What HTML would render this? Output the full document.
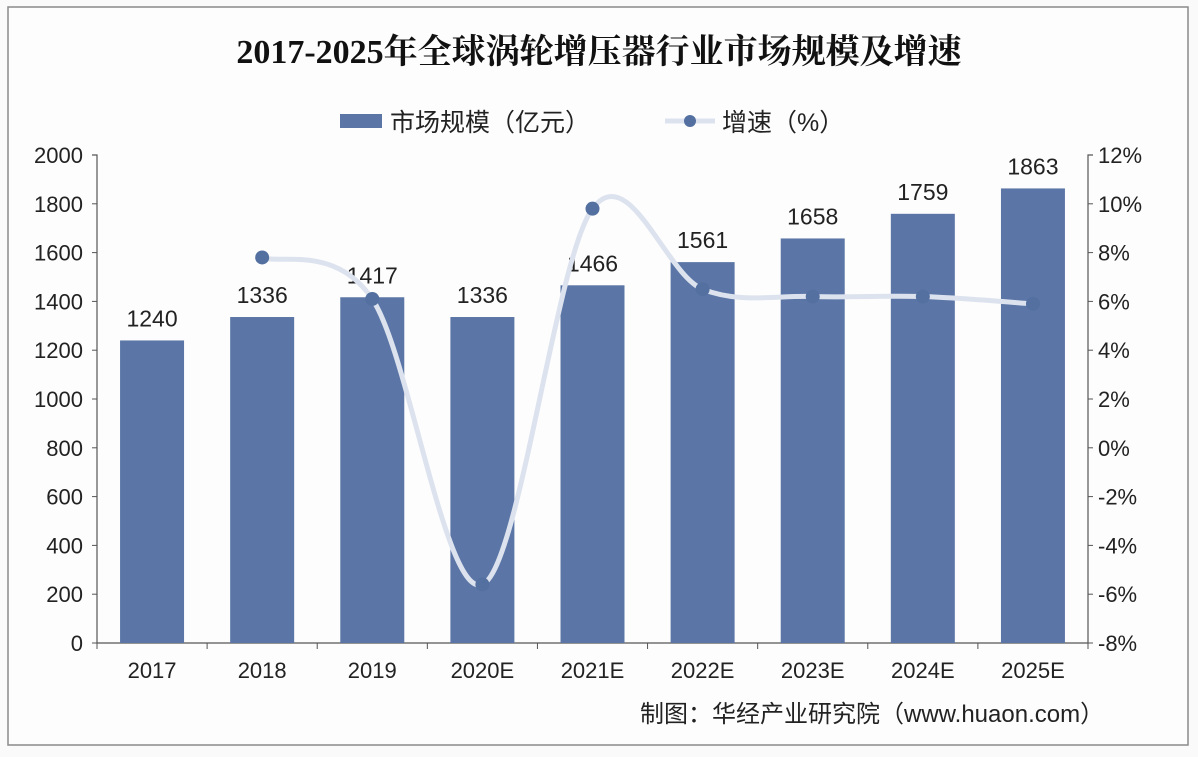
<!DOCTYPE html>
<html><head><meta charset="utf-8"><style>
body{margin:0;background:#fafafa;width:1198px;height:752px;overflow:hidden}
svg text{font-family:"Liberation Sans","Noto Sans CJK SC",sans-serif}
</style></head><body>
<svg id="c" width="1198" height="752" xmlns="http://www.w3.org/2000/svg">
<rect x="8" y="7" width="1180" height="738" fill="#fdfdfd" stroke="#8a8a8a" stroke-width="1.5"/>
<text x="599" y="63" text-anchor="middle" font-size="34" font-weight="bold" fill="#111" style="font-family:'Liberation Serif','Noto Serif CJK SC',serif">2017-2025年全球涡轮增压器行业市场规模及增速</text>
<g>
<rect x="340" y="114" width="42" height="14" fill="#5b76a6"/>
<text x="390" y="131" font-size="25" fill="#222">市场规模（亿元）</text>
<line x1="665" y1="121" x2="715" y2="121" stroke="#dde3ee" stroke-width="5"/>
<circle cx="690" cy="121" r="6" fill="#5470a0"/>
<text x="722" y="131" font-size="25" fill="#222">增速（%）</text>
</g>
<g id="plot"></g>
<text x="640" y="722" font-size="24" fill="#222">制图：华经产业研究院（www.huaon.com）</text>
</svg>
<script>
const categories=["2017","2018","2019","2020E","2021E","2022E","2023E","2024E","2025E"];
const marketSize=[1240,1336,1417,1336,1466,1561,1658,1759,1863];
const growth=[null,7.8,6.1,-5.6,9.8,6.5,6.2,6.2,5.9];
const leftTicks=[0,200,400,600,800,1000,1200,1400,1600,1800,2000];
const rightTicks=[-8,-6,-4,-2,0,2,4,6,8,10,12];
const NS="http://www.w3.org/2000/svg";
const g=document.getElementById('plot');
const X0=97,X1=1088,YT=155,YB=643;
const bw=(X1-X0)/categories.length;
const xc=i=>X0+bw*(i+0.5);
const yL=v=>YB-(v-0)/(2000-0)*(YB-YT);
const yR=v=>YB-(v+8)/20*(YB-YT);
function el(t,a){const e=document.createElementNS(NS,t);for(const k in a)e.setAttribute(k,a[k]);g.appendChild(e);return e;}
// axes
let ax=el('path',{d:`M${X0-5},${YT}H${X0}V${YB}H${X1}V${YT}H${X1+5}`,fill:'none',stroke:'#555','stroke-width':1.2});


leftTicks.forEach(v=>{
 el('line',{x1:X0-5,x2:X0,y1:yL(v),y2:yL(v),stroke:'#555'});
 const t=el('text',{x:X0-14,y:yL(v)+8,'text-anchor':'end','font-size':22,fill:'#222'});t.textContent=v;
 
 
});
rightTicks.forEach(v=>{
 el('line',{x1:X1,x2:X1+5,y1:yR(v),y2:yR(v),stroke:'#555'});
 const t=el('text',{x:X1+10,y:yR(v)+8,'font-size':22,fill:'#222'});t.textContent=v+'%';
 
 
});
for(let i=0;i<=categories.length;i++)el('line',{x1:X0+bw*i,x2:X0+bw*i,y1:YB,y2:YB+6,stroke:'#555'});
categories.forEach((c,i)=>{
 const r=el('rect',{x:xc(i)-32,y:yL(marketSize[i]),width:64,height:YB-yL(marketSize[i]),fill:'#5b76a6'});
 
 
 const l=el('text',{x:xc(i),y:yL(marketSize[i])-14,'text-anchor':'middle','font-size':23,fill:'#222'});l.textContent=marketSize[i];
 
 
 const t=el('text',{x:xc(i),y:678,'text-anchor':'middle','font-size':22,fill:'#222'});t.textContent=c;
 
 
});
const pts=[];growth.forEach((v,i)=>{if(v!==null)pts.push([xc(i),yR(v)]);});
let d=`M${pts[0][0]},${pts[0][1]}`;
for(let i=0;i<pts.length-1;i++){
 const p0=pts[i-1]||pts[i],p1=pts[i],p2=pts[i+1],p3=pts[i+2]||p2;
 const c1=[p1[0]+(p2[0]-p0[0])/6,p1[1]+(p2[1]-p0[1])/6],c2=[p2[0]-(p3[0]-p1[0])/6,p2[1]-(p3[1]-p1[1])/6];
 d+=`C${c1[0]},${c1[1]} ${c2[0]},${c2[1]} ${p2[0]},${p2[1]}`;
}
const ln=el('path',{d,fill:'none',stroke:'#dde3ee','stroke-width':5});


pts.forEach(p=>{const m=el('circle',{cx:p[0],cy:p[1],r:7,fill:'#5470a0'});
 
 });
</script>
</body></html>
